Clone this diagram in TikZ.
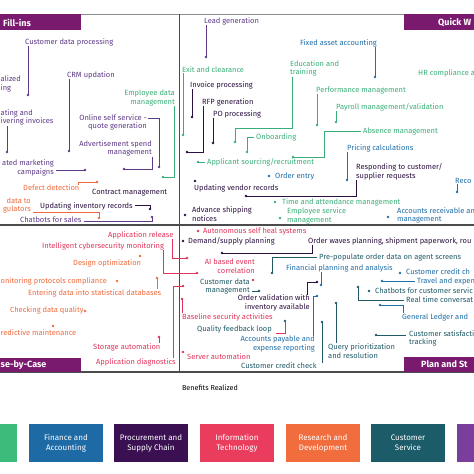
\documentclass[tikz,border=0pt]{standalone}
\usepackage{fontspec}
\setmainfont{Fira Sans}
\definecolor{cS}{HTML}{5E3A87}
\definecolor{cH}{HTML}{3AAE78}
\definecolor{cF}{HTML}{1F6EA8}
\definecolor{cP}{HTML}{2B1040}
\definecolor{cI}{HTML}{E0345A}
\definecolor{cR}{HTML}{EE6A3C}
\definecolor{cC}{HTML}{1F5A66}
\definecolor{hdr}{HTML}{7A1A6E}
\definecolor{lH}{HTML}{3DBB7A}
\definecolor{lF}{HTML}{1D6AA5}
\definecolor{lP}{HTML}{3A1052}
\definecolor{lI}{HTML}{EA3D5E}
\definecolor{lR}{HTML}{F26D3D}
\definecolor{lC}{HTML}{1B5C68}
\definecolor{lS}{HTML}{7A3E9D}
\tikzset{
  lb/.style={inner sep=0pt, font=\fontsize{7.5}{8.7}\selectfont, text=#1},
  lbl/.style={lb=#1, anchor=west, align=left},
  lbr/.style={lb=#1, anchor=east, align=right},
  pdot/.style={circle, inner sep=0pt, minimum size=2.6pt, fill=#1},
  cn/.style={draw=#1, line width=0.6pt},
  hdrtxt/.style={inner sep=0pt, anchor=west, text=white, font=\fontsize{9}{10}\selectfont\bfseries},
  legbox/.style={fill=#1, inner sep=0pt, minimum width=74pt, minimum height=38pt, text=white, align=center, font=\fontsize{8}{9.8}\selectfont}
}
\begin{document}
\begin{tikzpicture}[x=1pt,y=-1pt]
\useasboundingbox (0,0) rectangle (474,474);
\clip (0,0) rectangle (474,474);
% frame
\draw[black!45, line width=0.8pt] (0,14) -- (474,14);
\draw[black!70, line width=1pt] (179,14) -- (179,372);
\draw[black!70, line width=1.2pt] (0,225) -- (474,225);
\draw[black!70, line width=1.2pt] (0,372) -- (474,372);
% headers
\fill[hdr] (-2,14) rectangle (81,30);
\node[hdrtxt] (h1) at (3,22.5) {Fill-ins};
\fill[hdr] (404,14) rectangle (476,30);
\node[hdrtxt] (h2) at (438,22.5) {Quick W};
\fill[hdr] (-2,358) rectangle (81,372);
\node[hdrtxt] (h3) at (0.5,365) {se-by-Case};
\fill[hdr] (404,357) rectangle (476,372);
\node[hdrtxt] (h4) at (421,364.5) {Plan and St};

% ---------- Sales (purple)
\node[lbl=cS] (cdp) at (25,42) {Customer data processing};
\node[pdot=cS] (d1) at (28,95) {};
\draw[cn=cS] (cdp.south -| d1) -- (d1.center);
\node[lbl=cS] (pz) at (0.5,84) {alized\\ing};
\node[lbl=cS] (crm) at (67,75) {CRM updation};
\node[pdot=cS] (d2) at (69,151) {};
\draw[cn=cS] (crm.south -| d2) -- (d2.center);
\node[lbl=cS] (inv) at (0.5,117.5) {ating and\\ivering invoices};
\node[pdot=cS] (d3) at (7,152) {};
\draw[cn=cS] (inv.south -| d3) -- (d3.center);
\node[lbr=cS] (oss) at (147,122.5) {Online self service -\\quote generation};
\node[pdot=cS] (d4) at (159,167) {};
\draw[cn=cS] ([shift={(1pt,-4pt)}]oss.north east) -| (d4.center);
\node[lbr=cS] (asm) at (152,148.5) {Advertisement spend\\management};
\node[pdot=cS] (d5) at (124,169) {};
\draw[cn=cS] (asm.south east) |- (d5.center);
\node[lbr=cS] (amc) at (54,168) {ated marketing\\campaigns};
\node[pdot=cS] (d6) at (85,170) {};
\draw[cn=cS, shorten <=2pt] (amc.east |- d6.center) -- (d6.center);
\node[lbl=cS] (cfs) at (20,220) {Chatbots for sales};
\node[pdot=cS] (d7) at (152,217) {};
\draw[cn=cS, shorten <=2pt] (cfs.east |- 0,221) -| (d7.center);
\node[lbl=cS] (lg) at (204,21) {Lead generation};
\node[pdot=cS] (d8) at (206,57) {};
\draw[cn=cS] (lg.south -| d8) -- (d8.center);

% ---------- HR (green)
\node[lbr=cH] (edm) at (175,98) {Employee data\\management};
\node[pdot=cH] (d9) at (163,177) {};
\draw[cn=cH] ([xshift=-1pt]edm.south east) |- (d9.center);
\node[lbl=cH] (exc) at (182,70) {Exit and clearance};
\node[pdot=cH] (d10) at (183,135) {};
\draw[cn=cH] (exc.south -| d10) -- (d10.center);
\node[lbl=cH] (edt) at (290,68.5) {Education and\\training};
\node[pdot=cH] (d11) at (235,142) {};
\draw[cn=cH] (edt.south -| 292,0) -- (292,128) -| (d11.center);
\node[lbl=cH] (pm) at (316,90) {Performance management};
\node[pdot=cH] (d12) at (317,125) {};
\draw[cn=cH] (pm.south -| d12) -- (d12.center);
\node[lbl=cH] (hrc) at (418,73) {HR compliance a};
\node[lbl=cH] (pmv) at (336,107) {Payroll management/validation};
\node[pdot=cH] (d13) at (336,122) {};
\draw[cn=cH] (pmv.south -| d13) -- (d13.center);
\node[lbl=cH] (abm) at (363,131) {Absence management};
\node[pdot=cH] (d14) at (293,157) {};
\draw[cn=cH, shorten <=2pt] (abm.west) -- (324,131) |- (d14.center);
\node[lbl=cH] (onb) at (256,137) {Onboarding};
\node[pdot=cH] (d15) at (247,152) {};
\draw[cn=cH, shorten <=2pt] (onb.west) -| (d15.center);
\node[lbl=cH] (asr) at (207,162) {Applicant sourcing/recruitment};
\node[pdot=cH] (d16) at (198,162) {};
\draw[cn=cH, shorten <=2pt] (asr.west) -- (d16.center);
\node[lbl=cH] (tam) at (282,202) {Time and attendance management};
\node[pdot=cH] (d17) at (275,202) {};
\node[lbl=cH] (esm) at (287,216) {Employee service\\management};
\node[pdot=cH] (d18) at (280,218) {};

% ---------- Finance (blue)
\node[lbl=cF] (faa) at (300,43) {Fixed asset accounting};
\node[pdot=cF] (d19) at (375,77) {};
\draw[cn=cF] (faa.south -| d19) -- (d19.center);
\node[lbl=cF] (pc) at (347,148) {Pricing calculations};
\node[pdot=cF] (d20) at (347,180) {};
\draw[cn=cF] (pc.south -| d20) -- (d20.center);
\node[lbl=cF] (oe) at (275,176) {Order entry};
\node[pdot=cF] (d21) at (269,176) {};
\node[lbl=cF] (rec) at (455,181) {Reco};
\node[pdot=cF] (d22) at (457,192) {};
\draw[cn=cF] (rec.south -| d22) -- (d22.center);
\node[lbl=cF] (ar) at (397,215.5) {Accounts receivable an\\management};
\node[pdot=cF] (d23) at (388,217) {};
\node[lbl=cF] (fpa) at (286,268) {Financial planning and analysis};
\node[pdot=cF] (d24) at (321,285) {};
\draw[cn=cF] (fpa.south -| d24) -- (d24.center);
\node[lbl=cF] (ccc) at (406,272) {Customer credit ch};
\node[pdot=cF] (d25) at (400,273) {};
\node[lbl=cF] (tex) at (417,281) {Travel and expen};
\node[pdot=cF] (d26) at (382,281) {};
\draw[cn=cF, shorten <=2pt] (tex.west) -- (d26.center);
\node[lbl=cF] (gl) at (402,317) {General Ledger and};
\node[pdot=cF] (d27) at (380,305) {};
\draw[cn=cF] (gl.north -| 403,0) |- (d27.center);
\node[lbr=cF] (ap) at (315,344) {Accounts payable and\\expense reporting};
\node[pdot=cF] (d28) at (317,296) {};
\draw[cn=cF] (ap.north -| 313,0) -- (313,296) -- (d28.center);

% ---------- Procurement (dark purple)
\node[lbl=cP] (ip) at (190,85) {Invoice processing};
\node[pdot=cP] (d29) at (192,117) {};
\draw[cn=cP] (ip.south -| d29) -- (d29.center);
\node[lbl=cP] (rfp) at (202,102) {RFP generation};
\node[pdot=cP] (d30) at (187,152) {};
\draw[cn=cP] (rfp.south -| 203,0) |- (d30.center);
\node[lbl=cP] (po) at (213,114) {PO processing};
\node[pdot=cP] (d31) at (213,143) {};
\draw[cn=cP] (po.south -| d31) -- (d31.center);
\node[lbl=cP] (uvr) at (194,188) {Updating vendor records};
\node[pdot=cP] (d32) at (195,181) {};
\node[lbl=cP] (asn) at (192,214) {Advance shipping\\notices};
\node[pdot=cP] (d33) at (185,215) {};
\node[lbl=cP] (cm) at (92,193) {Contract management};
\node[lbl=cP] (uir) at (40,206) {Updating inventory records};
\node[pdot=cP] (d34) at (150,209) {};
\draw[cn=cP, shorten <=2pt] (uir.east |- 0,205) -| (d34.center);
\node[lbl=cP] (rcs) at (356,172) {Responding to customer/\\supplier requests};
\node[pdot=cP] (d35) at (246,196) {};
\draw[cn=cP] (rcs.south west) |- (d35.center);
\node[lbl=cP] (dsp) at (188,241) {Demand/supply planning};
\node[pdot=cP] (d36) at (183,241) {};
\node[lbl=cP] (owp) at (308,241) {Order waves planning, shipment paperwork, rou};
\node[pdot=cP] (d37) at (222,253) {};
\draw[cn=cP] (owp.south -| 312,0) |- (d37.center);
\node[lbr=cP] (ovi) at (310,303) {Order validation with\\inventory available};
\node[pdot=cP] (d38) at (317,282) {};
\draw[cn=cP] (ovi.north -| 307,0) |- (d38.center);

% ---------- IT (pink)
\node[lbl=cI] (arl) at (108,235) {Application release};
\node[pdot=cI] (d39) at (187,258) {};
\draw[cn=cI] (arl.south -| 172,0) |- (d39.center);
\node[lbl=cI] (icm) at (42,246) {Intelligent cybersecurity monitoring};
\node[pdot=cI] (d40) at (197,273) {};
\draw[cn=cI] (icm.south -| 163,0) |- (d40.center);
\node[lbl=cI] (ash) at (203,231) {Autonomous self heal systems};
\node[pdot=cI] (d41) at (198,231) {};
\node[lbr=cI] (aiec) at (255,266) {AI based event\\correlation};
\node[pdot=cI] (d42) at (253,280) {};
\node[lbl=cI] (bsa) at (182,317) {Baseline security activities};
\node[pdot=cI] (d43) at (182,299) {};
\draw[cn=cI] (bsa.north -| d43) -- (d43.center);
\node[lbl=cI] (sva) at (187,357) {Server automation};
\node[pdot=cI] (d44) at (183,352) {};
\node[lbl=cI] (sta) at (93,347) {Storage automation};
\node[pdot=cI] (d45) at (159,337) {};
\draw[cn=cI] (sta.north -| d45) -- (d45.center);
\node[lbl=cI] (adg) at (96,362) {Application diagnostics};
\node[pdot=cI] (d46) at (183,286) {};
\draw[cn=cI] (adg.north -| 173,0) |- (d46.center);

% ---------- R&D (orange)
\node[lbl=cR] (dd) at (23,188) {Defect detection};
\node[pdot=cR] (d47) at (97,182) {};
\draw[cn=cR] (dd.north -| 78,0) |- (d47.center);
\node[lbr=cR] (sdr) at (31,205.5) {data to\\gulators};
\node[pdot=cR] (d48) at (99,218) {};
\draw[cn=cR, shorten <=2pt] (sdr.east |- 0,212) -| (d48.center);
\node[lbl=cR] (dop) at (73,263) {Design optimization};
\node[pdot=cR] (d49) at (140,256) {};
\node[lbl=cR] (mpc) at (0.5,281) {onitoring protocols compliance};
\node[pdot=cR] (d50) at (117,281) {};
\node[lbl=cR] (edsd) at (28,293) {Entering data into statistical databases};
\node[pdot=cR] (d51) at (157,278) {};
\draw[cn=cR] (edsd.north -| d51) -- (d51.center);
\node[lbl=cR] (cdq) at (10,310) {Checking data quality};
\node[pdot=cR] (d52) at (85,311) {};
\node[lbl=cR] (pdm) at (0.5,333) {redictive maintenance};
\node[pdot=cR] (d53) at (53,326) {};

% ---------- Customer service (teal)
\node[lbl=cC] (ppo) at (319,257) {Pre-populate order data on agent screens};
\node[pdot=cC] (d54) at (272,273) {};
\draw[cn=cC, shorten <=2pt] (ppo.west) -| (d54.center);
\node[lbr=cC] (cdm) at (250,286.5) {Customer data\\management};
\node[pdot=cC] (d55) at (259,291) {};
\draw[cn=cC, shorten <=2pt] (cdm.east |- d55.center) -- (d55.center);
\node[lbl=cC] (cfc) at (375,291) {Chatbots for customer servic};
\node[pdot=cC] (d56) at (369,291) {};
\node[lbl=cC] (rtc) at (406,300) {Real time conversat};
\node[pdot=cC] (d57) at (358,287) {};
\draw[cn=cC, shorten <=2pt] (rtc.west) -| (d57.center);
\node[lbl=cC] (qfl) at (197,329) {Quality feedback loop};
\node[pdot=cC] (d58) at (285,321) {};
\draw[cn=cI, shorten <=4pt] (qfl.east |- 0,333) -| (d58.center);
\node[lbl=cC] (qpr) at (328,351) {Query prioritization\\and resolution};
\node[pdot=cC] (d59) at (336,303) {};
\draw[cn=cC] (qpr.north -| d59) -- (d59.center);
\node[lbl=cC] (cck) at (241,366) {Customer credit check};
\node[pdot=cC] (d60) at (322,322) {};
\draw[cn=cC] (cck.north -| d60) -- (d60.center);
\node[lbl=cC] (cst) at (409,338.5) {Customer satisfacti\\tracking};
\node[pdot=cC] (d61) at (376,335) {};
\draw[cn=cC, shorten <=3pt] (cst.west |- 0,335) -- (d61.center);

% ---------- legend
\node[inner sep=0pt, font=\fontsize{7.2}{8}\selectfont, text=black] (br) at (210,388) {Benefits Realized};
\node[legbox=lH] (lgH) at (-20,443) {};
\node[legbox=lF] (lgF) at (66,443) {Finance and\\Accounting};
\node[legbox=lP] (lgP) at (151,443) {Procurement and\\Supply Chain};
\node[legbox=lI] (lgI) at (237,443) {Information\\Technology};
\node[legbox=lR] (lgR) at (323,443) {Research and\\Development};
\node[legbox=lC] (lgC) at (408,443) {Customer\\Service};
\node[legbox=lS] (lgS) at (494,443) {};
\end{tikzpicture}
\end{document}
